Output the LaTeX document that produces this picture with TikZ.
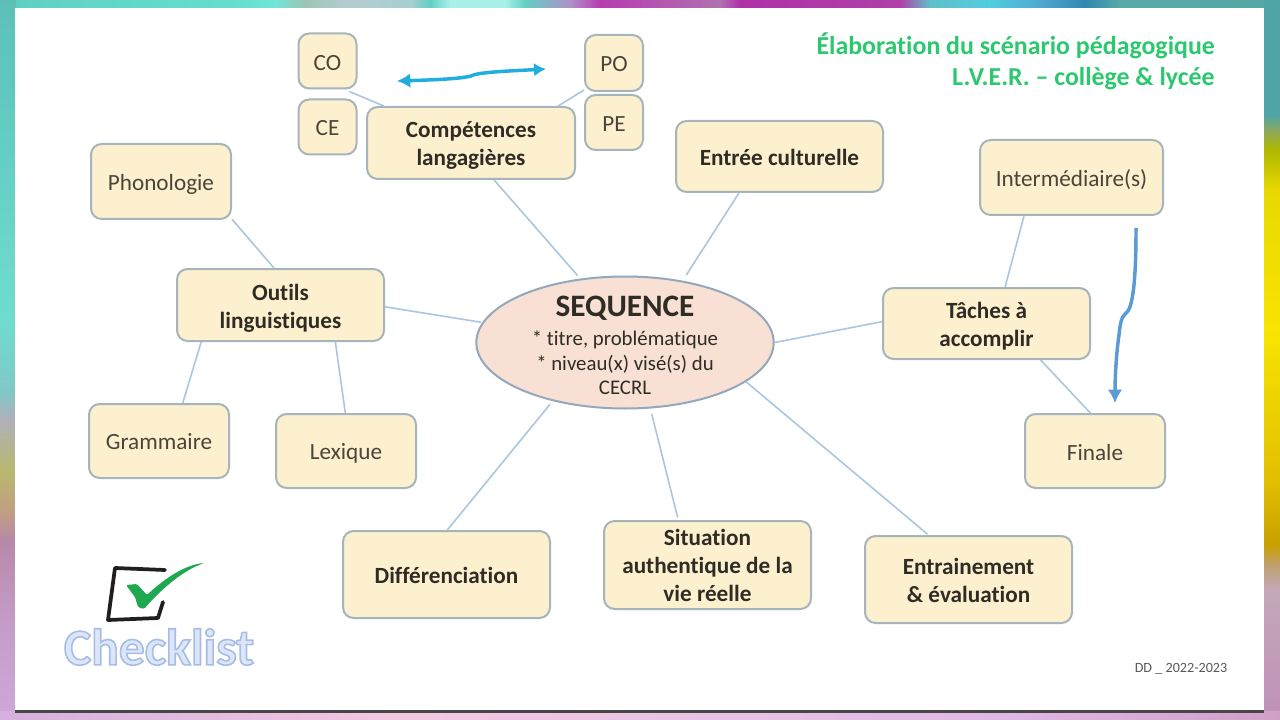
\documentclass[tikz,border=0pt]{standalone}
\usepackage{fontspec}
\setmainfont[Ligatures=NoCommon]{Carlito}
\usetikzlibrary{shapes.geometric,arrows.meta}
\definecolor{boxfill}{HTML}{FDF0CE}
\definecolor{boxline}{HTML}{A5B5BC}
\definecolor{seqfill}{HTML}{F8E0D4}
\definecolor{seqline}{HTML}{93A8BC}
\definecolor{conn}{HTML}{AAC6E0}
\definecolor{ink}{HTML}{2F2C26}
\definecolor{softink}{HTML}{4A453A}
\definecolor{titlegreen}{HTML}{2CC870}
\definecolor{arrowcyan}{HTML}{1FAEDE}
\definecolor{arrowblue}{HTML}{5B9BD5}
\definecolor{checkgreen}{HTML}{1FA84F}
\definecolor{checkfill}{HTML}{DCE6F9}
\tikzset{
  x=0.75pt,y=-0.75pt,
  bx/.style 2 args={draw=boxline,fill=boxfill,line width=1.5pt,rounded corners=8pt,
    minimum width=#1*0.75pt,minimum height=#2*0.75pt,inner sep=0pt,align=center,
    font=\fontsize{17.4}{21}\selectfont,text=softink},
  bb/.style={font=\fontsize{17.4}{21}\selectfont\bfseries,text=ink},
  link/.style={draw=conn,line width=1.2pt},
}
\newcommand{\lowr}[2]{\raisebox{-#1pt}[\height][\depth]{#2}}
\newcommand{\hstrip}[3]{\foreach \a/\ca/\b/\cb in {#3}{%
  \definecolor{cA}{HTML}{\ca}\definecolor{cB}{HTML}{\cb}%
  \fill[left color=cA,right color=cB] (\a,#1) rectangle (\b,#2);}}
\newcommand{\vstrip}[3]{\foreach \a/\ca/\b/\cb in {#3}{%
  \definecolor{cA}{HTML}{\ca}\definecolor{cB}{HTML}{\cb}%
  \fill[top color=cA,bottom color=cB] (#1,\a) rectangle (#2,\b);}}
\begin{document}
\begin{tikzpicture}
\useasboundingbox (0,0) rectangle (1280,720);
% frame
\hstrip{0}{9}{0/5FCFC4/230/66DCD0,230/66DCD0/275/70E4D8,275/70E4D8/305/9CC4B4,305/9CC4B4/345/B4CCD0,345/B4CCD0/410/A8D0D0,410/A8D0D0/430/62CFC4,430/62CFC4/450/A8F0EA,450/A8F0EA/505/A8F0EA,505/A8F0EA/525/62CFC4,525/62CFC4/570/B090C8,570/B090C8/600/B83CB0,600/B83CB0/720/B070B0,720/B070B0/740/B030A8,740/B030A8/900/B040A8,900/B040A8/930/60C0C8,930/60C0C8/990/50CDE0,990/50CDE0/1040/50A8D0,1040/50A8D0/1085/3088B0,1085/3088B0/1120/58A8A8,1120/58A8A8/1280/55A8A4}
\vstrip{0}{16}{0/5CC0B8/320/70DCD0,320/70DCD0/390/80C8C8,390/80C8C8/420/B0B0B8,420/B0B0B8/470/B8B870,470/B8B870/510/C0A080,510/C0A080/540/B888A8,540/B888A8/620/C49CC8,620/C49CC8/720/D0A8D8}
\vstrip{1264}{1280}{0/4FA5A5/115/4FA5A5,115/4FA5A5/130/8AA860,130/8AA860/150/B0B800,150/B0B800/190/E8D800,190/E8D800/330/F8E400,330/F8E400/480/E0C000,480/E0C000/545/C8A000,545/C8A000/565/C0A070,565/C0A070/590/C4A8B8,590/C4A8B8/720/C090B8}
\hstrip{711}{720}{0/D4B0DC/400/F2C8E0,400/F2C8E0/640/EAC4E4,640/EAC4E4/1000/E0B8E4,1000/E0B8E4/1280/D0A0C8}
\fill[white] (15,8) rectangle (1264,711);
\fill[black!72] (15,710) rectangle (1264,713);
% title
\node[anchor=base east,inner sep=0pt,text=titlegreen,font=\fontsize{19.4}{18}\selectfont\bfseries] (t1) at (1215,55) {Élaboration du scénario pédagogique};
\node[anchor=base east,inner sep=0pt,text=titlegreen,font=\fontsize{19.4}{18}\selectfont\bfseries] (t2) at (1215,86) {L.V.E.R. – collège \& lycée};
% centre
\node[ellipse,draw=seqline,fill=seqfill,line width=1.5pt,minimum width=223pt,minimum height=99pt,inner xsep=0pt,inner ysep=-8pt,align=center,text=ink,font=\fontsize{15.6}{18.4}\selectfont] (seq) at (625,342.5)
  {\rule{0pt}{20pt}{\fontsize{23.4}{26}\selectfont\bfseries SEQUENCE}\\[3pt]* titre, problématique\\* niveau(x) visé(s) du\\CECRL};
% boxes
\node[bx={58}{55}] (co) at (327.5,61) {\lowr{1.5}{CO}};
\node[bx={58}{55}] (ce) at (327.5,127) {\lowr{0.8}{CE}};
\node[bx={58}{56}] (po) at (614,63) {\lowr{0.8}{PO}};
\node[bx={58}{55}] (pe) at (614,122.5) {\lowr{0.8}{PE}};
\node[bx={208}{72},bb] (comp) at (471,143) {\rule{0pt}{15.5pt}Compétences\\langagières};
\node[bx={207}{71},bb] (entree) at (779.5,156.5) {\lowr{0.8}{Entrée culturelle}};
\node[bx={183}{75}] (interm) at (1071.5,177.5) {\lowr{1.5}{Intermédiaire(s)}};
\node[bx={140}{75}] (phon) at (161,181.5) {\lowr{2.2}{Phonologie}};
\node[bx={207}{72},bb] (outils) at (280.5,305) {\rule{0pt}{16.8pt}Outils\\linguistiques};
\node[bx={207}{71},bb] (taches) at (986.5,323.5) {\rule{0pt}{16pt}Tâches à\\accomplir};
\node[bx={140}{74}] (gram) at (159,441) {\lowr{0.8}{Grammaire}};
\node[bx={140}{74}] (lex) at (346,451) {\lowr{1.5}{Lexique}};
\node[bx={140}{74}] (finale) at (1095,451) {\lowr{0.8}{Finale}};
\node[bx={207}{87},bb] (diff) at (446.5,574.5) {\lowr{0.8}{Différenciation}};
\node[bx={207}{88},bb] (situ) at (707.5,565) {Situation\\authentique de la\\vie réelle};
\node[bx={207}{87},bb] (entr) at (968.5,579.5) {\rule{0pt}{13.8pt}Entrainement\\\& évaluation};
% connectors
\draw[link,shorten >=3pt] (comp.-58.6) -- (seq.125.8);
\draw[link,shorten >=5pt] (entree.-138.8) -- (seq.47);
\draw[link] (taches.179.2) -- (seq.-0.2);
\draw[link,shorten >=1pt] (outils.-1.7) -- (seq.172.7);
\draw[link,shorten >=3pt] (diff.89.3) -- (seq.219.6);
\draw[link,shorten <=2pt,shorten >=4pt] (situ.123.8) -- (seq.-69.8);
\draw[link,shorten <=1pt] (entr.132.4) -- (seq.-18);
\draw[link] (phon.-28) -- (outils.100.2);
\draw[link] (outils.205.5) -- (gram.58.1);
\draw[link] (outils.-34.5) -- (lex.91.5);
\draw[link] (interm.219.5) -- (taches.63.8);
\draw[link] (taches.-34.6) -- (finale.97.7);
\draw[link,shorten <=4pt] (co.-59.4) -- (comp.157.8);
\draw[link] (po.222) -- (comp.23.7);
% hand-drawn arrows
\coordinate (ca) at (397,81);
\coordinate (cb) at (546,69);
\draw[arrowcyan,line width=2.6pt,{Latex[length=10pt,width=11pt]}-{Latex[length=9pt,width=10pt]}] (ca) .. controls (430,80) and (460,79) .. (471,76) .. controls (478,72) and (510,71) .. (cb);
\coordinate (da) at (1136,228);
\coordinate (db) at (1115,403);
\draw[arrowblue,line width=2.6pt,-{Latex[length=10pt,width=11pt]}] (da) .. controls (1136,260) and (1135,300) .. (1128,311) .. controls (1124,316) and (1121,314) .. (1119,335) .. controls (1116,355) and (1115,380) .. (db);
% footer
\node[inner sep=0pt,text=black!65,font=\fontsize{10.6}{11}\selectfont] (dd) at (1181,669) {DD \_ 2022-2023};
% checklist logo
\draw[black!88,line width=2.8pt,line cap=round,line join=round] (165,570) -- (115,568) -- (108,620) -- (158,618) -- (163,602);
\fill[checkgreen,rounded corners=1pt] (126,585) -- (137,584) -- (147,595) .. controls (165,578) and (185,565) .. (204,563) .. controls (185,570) and (165,585) .. (144,609) -- (138,607) -- (135,597) -- cycle;
\node[inner sep=0pt,text=checkfill,font=\fontsize{38.6}{40}\selectfont\bfseries] (chk) at (159,647)
  {\special{pdf:code q 2 Tr 1.2 w 0.66 0.74 0.90 RG}Checklist\special{pdf:code Q}};
\end{tikzpicture}
\end{document}
